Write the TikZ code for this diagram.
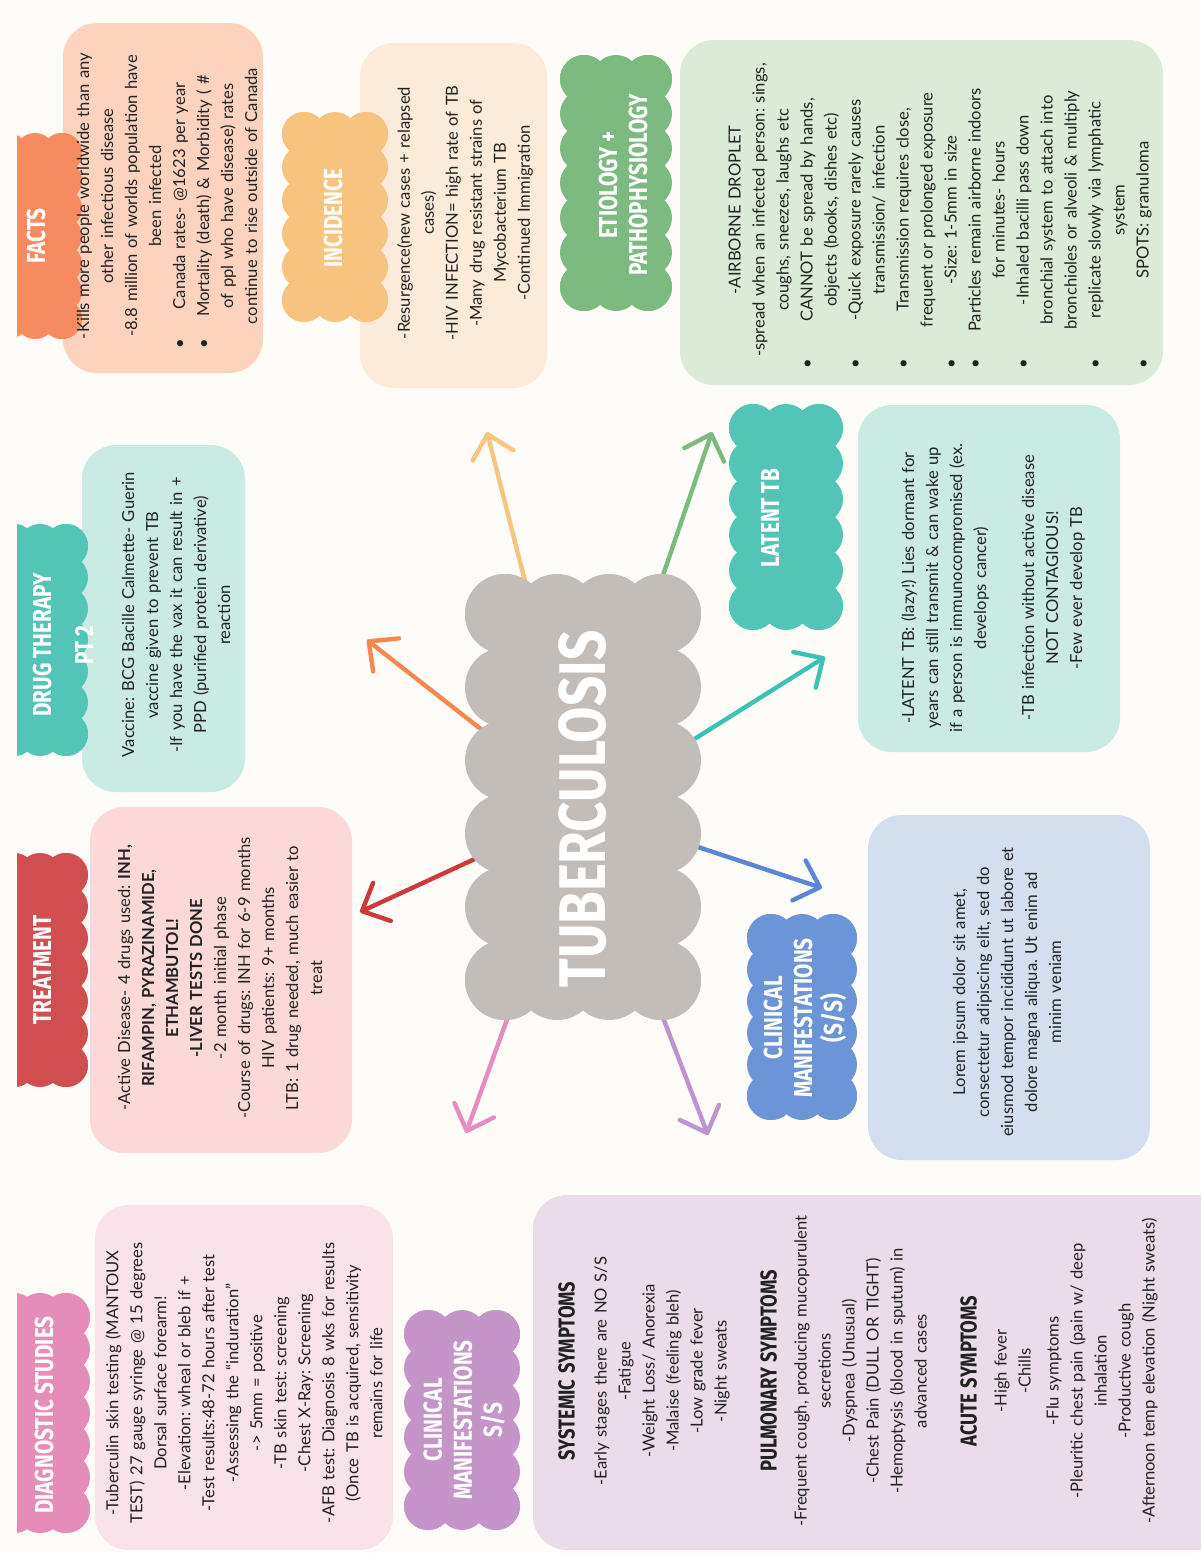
\documentclass[tikz,border=0pt]{standalone}
\usepackage{fontspec}
\setmainfont{Lato}
\newfontfamily\hdrfont[FakeStretch=0.8]{Fira Sans}
\usepackage{tikz}
\usetikzlibrary{arrows.meta, positioning}
\pgfdeclarelayer{boxes}
\pgfdeclarelayer{clouds}
\pgfsetlayers{boxes,clouds,main}
\frenchspacing
\definecolor{paper}{RGB}{253,252,248}
\definecolor{ink}{RGB}{34,34,34}
\definecolor{factsc}{RGB}{245,139,94}
\definecolor{factsb}{RGB}{253,211,190}
\definecolor{incc}{RGB}{247,196,127}
\definecolor{incb}{RGB}{252,235,216}
\definecolor{etioc}{RGB}{125,186,128}
\definecolor{etiob}{RGB}{220,235,216}
\definecolor{tealc}{RGB}{83,197,182}
\definecolor{tealb}{RGB}{201,235,228}
\definecolor{treatc}{RGB}{208,78,80}
\definecolor{treatb}{RGB}{253,216,217}
\definecolor{diagc}{RGB}{229,140,184}
\definecolor{diagb}{RGB}{250,226,235}
\definecolor{sympc}{RGB}{197,148,200}
\definecolor{sympb}{RGB}{234,221,233}
\definecolor{clinc}{RGB}{107,149,214}
\definecolor{clinb}{RGB}{211,223,239}
\definecolor{tbc}{RGB}{195,189,185}
\definecolor{arY}{RGB}{248,197,127}
\definecolor{arO}{RGB}{245,135,79}
\definecolor{arR}{RGB}{204,58,60}
\definecolor{arP}{RGB}{229,140,192}
\definecolor{arV}{RGB}{190,148,206}
\definecolor{arB}{RGB}{91,134,214}
\definecolor{arT}{RGB}{60,194,180}
\definecolor{arG}{RGB}{125,186,127}
\tikzset{
  hdr/.style={rotate=90, align=center, text=white, inner sep=0pt,
    font=\hdrfont\bfseries\fontsize{13}{15}\selectfont},
  body/.style={rotate=90, align=center, text=ink, inner sep=0pt,
    font=\fontsize{8.3}{12}\selectfont},
  branch/.style={line width=2.2pt, line cap=round,
    -{Straight Barb[length=11pt,width=21pt,round]}},
  box/.style={rounded corners=17pt}
}
% scalloped cloud: cx, cy, half x, half y, bump radius, spacing, colour
\newcommand\cloudfill[7]{%
  \pgfmathsetmacro\cax{#3-#5}\pgfmathsetmacro\cay{#4-#5}%
  \pgfmathtruncatemacro\cnx{max(1,ceil(2*\cax/(#6*#5)))}%
  \pgfmathtruncatemacro\cny{max(1,ceil(2*\cay/(#6*#5)))}%
  \fill[#7] (#1-\cax,#2-\cay) rectangle (#1+\cax,#2+\cay);
  \foreach \i in {0,...,\cnx}{
    \fill[#7] (#1-\cax+2*\cax*\i/\cnx,#2-\cay) circle[radius=#5];
    \fill[#7] (#1-\cax+2*\cax*\i/\cnx,#2+\cay) circle[radius=#5];}
  \foreach \j in {0,...,\cny}{
    \fill[#7] (#1-\cax,#2-\cay+2*\cay*\j/\cny) circle[radius=#5];
    \fill[#7] (#1+\cax,#2-\cay+2*\cay*\j/\cny) circle[radius=#5];}
}
\newcommand\bul[1]{\makebox[\linewidth]{\rlap{\textbullet}\hfill#1\hfill}}
\newcommand\symphead[1]{{\hdrfont\bfseries\fontsize{11.5}{12}\selectfont #1}}

\begin{document}
\begin{tikzpicture}[x=0.5pt, y=-0.5pt]
  \useasboundingbox (0,0) rectangle (1200,1553);

  % Centre
  \node[hdr, font=\hdrfont\bfseries\fontsize{33}{33}\selectfont] (tb) at (583,809) {TUBERCULOSIS};

  % Headers
  \node[hdr] (factsh) at (36,236) {FACTS};
  \node[hdr] (inch) at (333,218) {INCIDENCE};
  \node[hdr] (etioh) at (623,185) {ETIOLOGY +\\PATHOPHYSIOLOGY};
  \node[hdr] (drugh) at (63,645) {DRUG THERAPY\\[6pt]PT 2};
  \node[hdr] (treath) at (42,970) {TREATMENT};
  \node[hdr] (diagh) at (44,1415) {DIAGNOSTIC STUDIES};
  \node[hdr] (symph) at (464,1420) {CLINICAL\\MANIFESTATIONS\\S/S};
  \node[hdr] (latenth) at (770,518) {LATENT TB};
  \node[hdr] (clinh) at (805,1018) {CLINICAL\\MANIFESTATIONS\\(S/S)};

  % Facts
  \node[body, text width=152pt] (facts) at (167,196) {-Kills more people worldwide than any\\
    other infectious disease\\
    -8.8 million of worlds population have\\
    been infected\\
    \bul{Canada rates- @1623 per year}\\
    \bul{Mortality (death) \& Morbidity ( \#}\\
    of ppl who have disease) rates\\
    continue to rise outside of Canada};

  % Incidence
  \node[body, text width=140pt] (inc) at (465,213) {-Resurgence(new cases + relapsed\\
    cases)\\
    -HIV INFECTION= high rate of TB\\
    -Many drug resistant strains of\\
    Mycobacterium TB\\
    -Continued Immigration};

  % Etiology
  \node[body, text width=158pt] (etio) at (940,210) {-AIRBORNE DROPLET\\
    -spread when an infected person: sings,\\
    coughs, sneezes, laughs etc\\
    \bul{CANNOT be spread by hands,}\\
    objects (books, dishes etc)\\
    \bul{-Quick exposure rarely causes}\\
    transmission/ infection\\
    \bul{Transmission requires close,}\\
    frequent or prolonged exposure\\
    \bul{-Size: 1-5mm in size}\\
    \bul{Particles remain airborne indoors}\\
    for minutes- hours\\
    \bul{-Inhaled bacilli pass down}\\
    bronchial system to attach into\\
    bronchioles or alveoli \& multiply\\
    \bul{replicate slowly via lymphatic}\\
    system\\
    \bul{SPOTS: granuloma}};

  % Drug therapy
  \node[body, text width=153pt] (drug) at (176,615) {Vaccine: BCG Bacille Calmette- Guerin\\
    vaccine given to prevent TB\\
    -If you have the vax it can result in +\\
    PPD (purified protein derivative)\\
    reaction};

  % Treatment
  \node[body, text width=152pt] (treat) at (220,978) {-Active Disease- 4 drugs used: \textbf{INH,}\\
    \textbf{RIFAMPIN, PYRAZINAMIDE,}\\
    \textbf{ETHAMBUTOL!}\\
    \textbf{-LIVER TESTS DONE}\\
    -2 month initial phase\\
    -Course of drugs: INH for 6-9 months\\
    HIV patients: 9+ months\\
    LTB: 1 drug needed, much easier to\\
    treat};

  % Diagnostic studies
  \node[body, text width=152pt] (diag) at (244,1383) {-Tuberculin skin testing (MANTOUX\\
    TEST) 27 gauge syringe @ 15 degrees\\
    Dorsal surface forearm!\\
    -Elevation: wheal or bleb if +\\
    -Test results:48-72 hours after test\\
    -Assessing the “induration”\\
    -> 5mm = positive\\
    -TB skin test: screening\\
    -Chest X-Ray: Screening\\
    -AFB test: Diagnosis 8 wks for results\\
    (Once TB is acquired, sensitivity\\
    remains for life};

  % Symptoms
  \node[body, text width=168pt] (symp) at (858,1371) {\symphead{SYSTEMIC SYMPTOMS}\\[4pt]
    -Early stages there are NO S/S\\
    -Fatigue\\
    -Weight Loss/ Anorexia\\
    -Malaise (feeling bleh)\\
    -Low grade fever\\
    -Night sweats\\[13pt]
    \symphead{PULMONARY SYMPTOMS}\\[3pt]
    -Frequent cough, producing mucopurulent\\
    secretions\\
    -Dyspnea (Unusual)\\
    -Chest Pain (DULL OR TIGHT)\\
    -Hemoptysis (blood in sputum) in\\
    advanced cases\\[13pt]
    \symphead{ACUTE SYMPTOMS}\\[3pt]
    -High fever\\
    -Chills\\[2pt]
    -Flu symptoms\\
    -Pleuritic chest pain (pain w/ deep\\
    inhalation\\
    -Productive cough\\
    -Afternoon temp elevation (Night sweats)};

  % Latent TB
  \node[body, text width=153pt] (latent) at (993,588) {-LATENT TB: (lazy!) Lies dormant for\\
    years can still transmit \& can wake up\\
    if a person is immunocompromised (ex.\\
    develops cancer)\\[12pt]
    -TB infection without active disease\\
    NOT CONTAGIOUS!\\
    -Few ever develop TB};

  % Clinical manifestations
  \node[body, text width=158pt] (clin) at (1007,992) {Lorem ipsum dolor sit amet,\\
    consectetur adipiscing elit, sed do\\
    eiusmod tempor incididunt ut labore et\\
    dolore magna aliqua. Ut enim ad\\
    minim veniam};

  % Arrow tips
  \coordinate (aInc) at (487,432);
  \coordinate (aFacts) at (367,640);
  \coordinate (aTreat) at (360,912);
  \coordinate (aDiag) at (466,1133);
  \coordinate (aSymp) at (708,1135);
  \coordinate (aClin) at (822,888);
  \coordinate (aLatent) at (825,657);
  \coordinate (aEtio) at (712,432);

  \begin{pgfonlayer}{boxes}
    \fill[paper] (0,0) rectangle (1200,1553);
    \fill[box, factsb] (63,23) rectangle (263,373);
    \fill[box, incb] (360,43) rectangle (547,388);
    \fill[box, etiob] (680,40) rectangle (1163,385);
    \fill[box, tealb] (82,445) rectangle (245,792);
    \fill[box, treatb] (90,807) rectangle (352,1153);
    \fill[box, diagb] (95,1205) rectangle (393,1550);
    \fill[box, sympb] (533,1195) rectangle (1235,1550);
    \fill[box, tealb] (858,405) rectangle (1120,752);
    \fill[box, clinb] (868,815) rectangle (1150,1160);
  \end{pgfonlayer}

  \begin{pgfonlayer}{clouds}
    \draw[branch, arY] (tb.center) -- (aInc);
    \draw[branch, arO] (tb.center) -- (aFacts);
    \draw[branch, arR] (tb.center) -- (aTreat);
    \draw[branch, arP] (tb.center) -- (aDiag);
    \draw[branch, arV] (tb.center) -- (aSymp);
    \draw[branch, arB] (tb.center) -- (aClin);
    \draw[branch, arT] (tb.center) -- (aLatent);
    \draw[branch, arG] (tb.center) -- (aEtio);
    \cloudfill{583}{797}{118}{223}{40}{1.9}{tbc}
    \cloudfill{335}{217}{53}{105}{22}{1.55}{incc}
    \cloudfill{616}{183}{56}{128}{24}{1.55}{etioc}
    \cloudfill{462}{1420}{58}{110}{24}{1.55}{sympc}
    \cloudfill{786}{517}{57}{113}{24}{1.55}{tealc}
    \cloudfill{802}{1017}{55}{103}{24}{1.55}{clinc}
    \begin{scope}
      \clip (17,0) rectangle (1200,1553);
      \cloudfill{35}{236}{47}{103}{20}{1.55}{factsc}
      \cloudfill{40}{640}{48}{116}{22}{1.55}{tealc}
      \cloudfill{40}{970}{48}{117}{22}{1.55}{treatc}
      \cloudfill{40}{1413}{50}{120}{24}{1.55}{diagc}
    \end{scope}
  \end{pgfonlayer}
\end{tikzpicture}
\end{document}
